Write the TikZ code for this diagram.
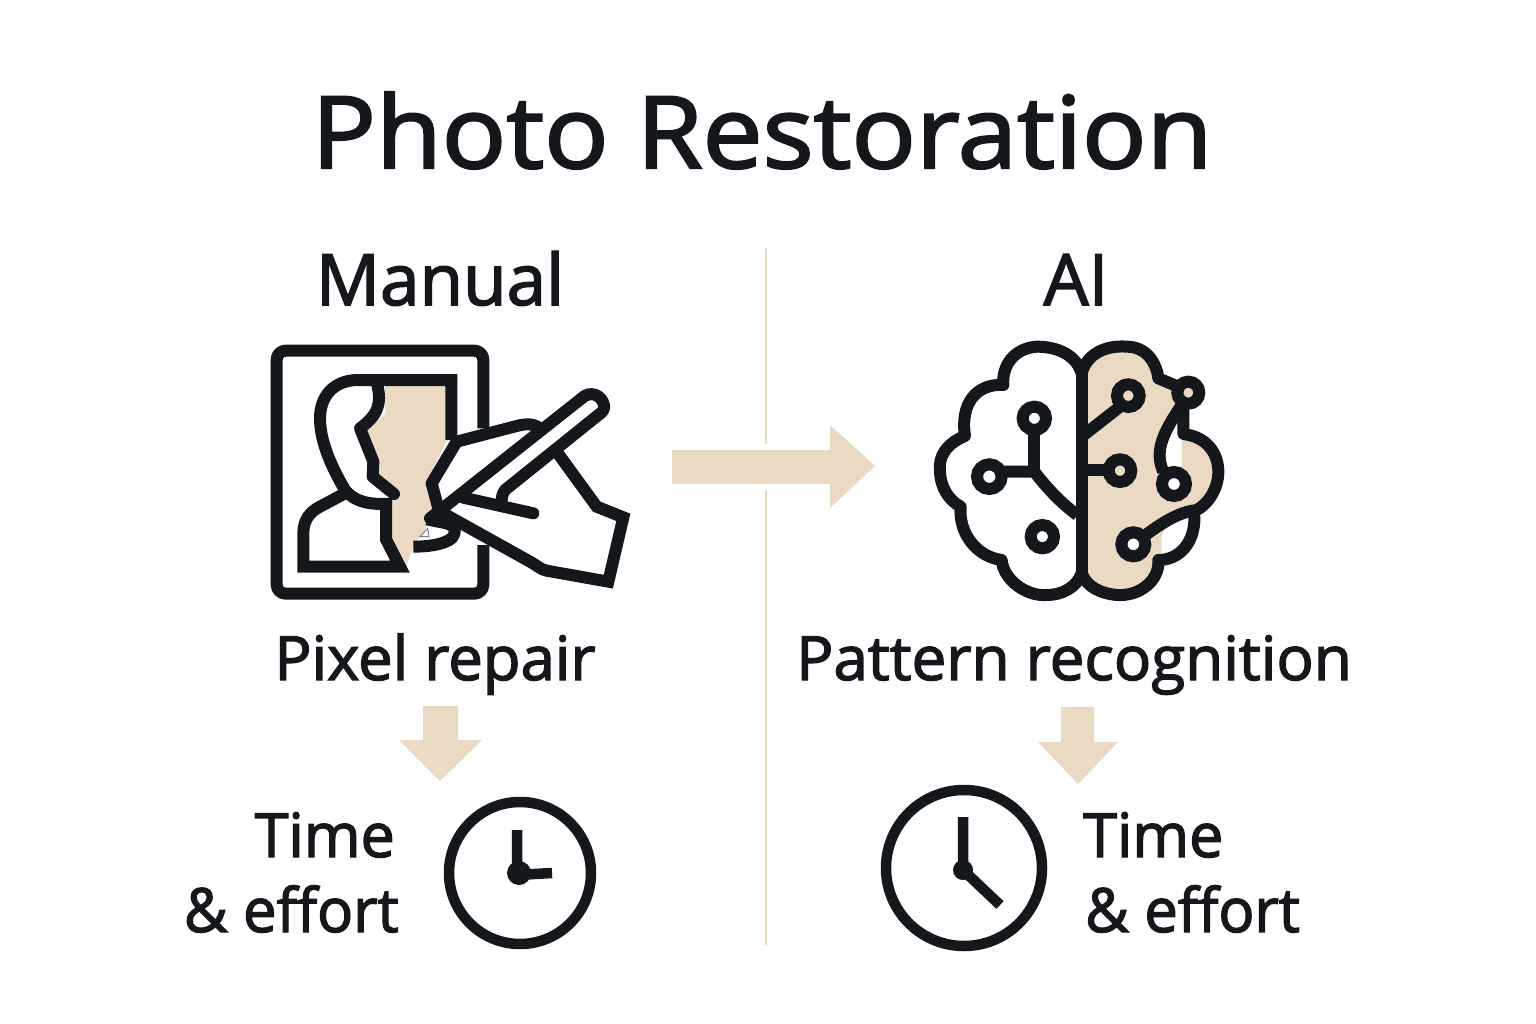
\documentclass[tikz,border=0pt]{standalone}
\usepackage{fontspec}
\setmainfont{Open Sans}[FakeBold=2.2]
\definecolor{ink}{HTML}{14181C}
\definecolor{sand}{HTML}{EADAC3}
\tikzset{
  titletext/.style={inner sep=0pt,text=ink,font=\fontsize{100}{100}\selectfont,anchor=base,xscale=1.07},
  headtext/.style={inner sep=0pt,text=ink,font=\fontsize{71}{71}\selectfont,anchor=base},
  bodytext/.style={inner sep=0pt,text=ink,font=\fontsize{61}{61}\selectfont,anchor=base},
  icon/.style={draw=ink,line width=12pt,line join=round,line cap=butt},
  ring/.style={draw=ink,line width=12pt},
  clockline/.style={draw=ink,line width=10.5pt},
  block/.style={fill=sand,draw=none},
}
\begin{document}
\begin{tikzpicture}[x=1pt,y=-1pt]
\useasboundingbox (0,0) rectangle (1536,1024);
\fill[white] (0,0) rectangle (1536,1024);
% divider
\draw[sand,line width=2.5pt] (766,248) -- (766,945);
% texts
\node[titletext] (title) at (762,168) {Photo Restoration};
\node[headtext] (manual) at (440,305) {Manual};
\node[headtext] (ai) at (1076,305) {AI};
\node[bodytext,xscale=1.01] (pixel) at (435,680) {Pixel repair};
\node[bodytext,xscale=1.015] (pattern) at (1074,680) {Pattern recognition};
\node[bodytext,anchor=base east] (time1) at (395,857) {Time};
\node[bodytext,anchor=base east,xscale=0.98] (effort1) at (399,932) {\& effort};
\node[bodytext,anchor=base west] (time2) at (1083,857) {Time};
\node[bodytext,anchor=base west,xscale=0.98] (effort2) at (1085,932) {\& effort};
% arrows
\fill[white] (672,444) rectangle (830,490);
\path[block] (672,450) -- (830,450) -- (830,425) -- (875,466) -- (830,508) -- (830,484) -- (672,484) -- cycle;
\path[block] (423,706) -- (458,706) -- (458,740) -- (482,740) -- (440,781) -- (399,740) -- (423,740) -- cycle;
\path[block] (1061,707) -- (1094,707) -- (1094,742) -- (1118,742) -- (1078,784) -- (1038,742) -- (1061,742) -- cycle;
% manual icon
\begin{scope}[shift={(260,330)},x=0.33333pt,y=-0.33333pt]
  \draw[icon,rounded corners=9pt] (670,295) -- (670,62) -- (50,62) -- (50,791) -- (670,791) -- (670,645);
  \fill[sand] (375,165) -- (558,165) -- (558,335) -- (500,460) -- (520,545) -- (497,570) -- (497,595)
     -- (460,650) -- (435,718) -- (395,630) -- (395,510) -- (415,490) -- (350,440) -- (355,395) -- (318,305) -- (375,250) -- cycle;
  % person
  \draw[icon,line join=miter] (574,330) -- (574,150) -- (295,150) .. controls (220,150) and (180,200) .. (180,265)
     .. controls (180,340) and (220,420) .. (255,480) .. controls (290,522) and (340,522) .. (378,522)
     -- (378,628) -- (420,710) -- (130,710) -- (130,610) .. controls (130,570) and (150,545) .. (180,530) -- (255,490);
  \draw[icon,line cap=round] (352,165) .. controls (365,220) and (355,255) .. (300,295) -- (340,395) -- (338,440) -- (402,492);
  % hand
  \fill[white] (590,340) -- (800,290) -- (1030,240) -- (1090,560) -- (1045,755) -- (830,695) -- (590,600) -- (530,540) -- (515,460) -- cycle;
  \draw[icon] (845,300) .. controls (825,280) and (800,280) .. (770,288) -- (590,335) -- (515,460) -- (535,535);
  % pen
  \draw[icon,line cap=round] (510,565) -- (965,205) .. controls (990,180) and (1025,195) .. (1032,225)
     .. controls (1035,240) and (1025,248) .. (1015,255) -- (735,480) .. controls (728,490) and (725,500) .. (725,512);
  \draw[icon,line cap=round] (610,503) -- (820,550);
  % lower hand
  \draw[icon,line join=miter] (890,365) -- (1010,530) -- (1090,562) -- (1045,755) -- (860,722) .. controls (840,718) and (830,705) .. (810,695) -- (550,550);
  \draw[icon] (500,568) -- (560,580) .. controls (590,590) and (590,605) .. (575,625) .. controls (550,645) and (500,650) .. (460,650);
  \filldraw[fill=white,draw=gray,line width=1pt] (480,620) -- (503,595) -- (507,620) -- cycle;
\end{scope}
% brain icon
\begin{scope}[shift={(920,330)},x=0.33333pt,y=-0.33333pt]
  \fill[sand] (485,130) .. controls (500,70) and (560,50) .. (620,50) .. controls (680,50) and (710,100) .. (715,145)
     -- (765,170) -- (780,235) -- (730,330) -- (735,410) -- (785,410) -- (785,320) -- (795,310)
     .. controls (860,320) and (895,370) .. (895,425) .. controls (895,480) and (860,525) .. (830,540)
     -- (745,565) -- (725,620) -- (725,690) -- (715,690)
     .. controls (720,750) and (660,800) .. (590,795) .. controls (540,790) and (500,770) .. (485,730) -- cycle;
  \draw[icon] (485,130) .. controls (470,80) and (420,50) .. (350,50) .. controls (280,55) and (245,110) .. (250,165)
     .. controls (170,160) and (120,220) .. (135,318) .. controls (80,340) and (55,380) .. (60,420)
     .. controls (60,470) and (85,510) .. (122,530) .. controls (115,610) and (170,680) .. (245,690)
     .. controls (250,750) and (320,800) .. (380,795) .. controls (430,795) and (470,770) .. (485,730);
  \draw[icon] (485,130) .. controls (500,70) and (560,45) .. (620,50) .. controls (680,50) and (710,100) .. (715,145) -- (775,170);
  \draw[icon] (790,235) -- (790,312) .. controls (860,320) and (895,370) .. (895,425) .. controls (895,480) and (860,525) .. (830,540)
     .. controls (790,545) and (750,560) .. (670,620);
  \draw[icon] (822,550) .. controls (830,620) and (790,690) .. (715,690)
     .. controls (720,750) and (660,800) .. (590,795) .. controls (540,790) and (500,770) .. (485,730);
  \draw[icon] (485,110) -- (485,735);
  \draw[icon] (343,300) -- (343,425);
  \draw[icon] (240,425) -- (343,425) .. controls (385,480) and (430,525) .. (472,555);
  \draw[icon] (485,320) -- (600,230);
  \draw[icon] (485,420) -- (565,420);
  \draw[icon] (785,225) .. controls (735,300) and (700,360) .. (730,425);
  \filldraw[ring,fill=white] (343,265) circle[radius=35];
  \filldraw[ring,fill=white] (208,440) circle[radius=37];
  \filldraw[ring,fill=white] (367,620) circle[radius=35];
  \filldraw[ring,fill=sand] (625,197) circle[radius=34];
  \filldraw[ring,fill=sand] (600,422) circle[radius=34];
  \filldraw[ring,fill=white] (762,462) circle[radius=36];
  \filldraw[ring,fill=white] (640,643) circle[radius=36];
  \filldraw[ring,fill=sand] (805,188) circle[radius=33];
\end{scope}
% clocks
\draw[clockline] (520,873) circle[radius=71];
\draw[clockline] (517,830) -- (517,875) -- (552,873);
\fill[ink] (519,873) circle[radius=12];
\draw[clockline] (964,868) circle[radius=78];
\draw[clockline] (963,817) -- (963,870) -- (1000,905);
\fill[ink] (963,870) circle[radius=10];
\end{tikzpicture}
\end{document}
